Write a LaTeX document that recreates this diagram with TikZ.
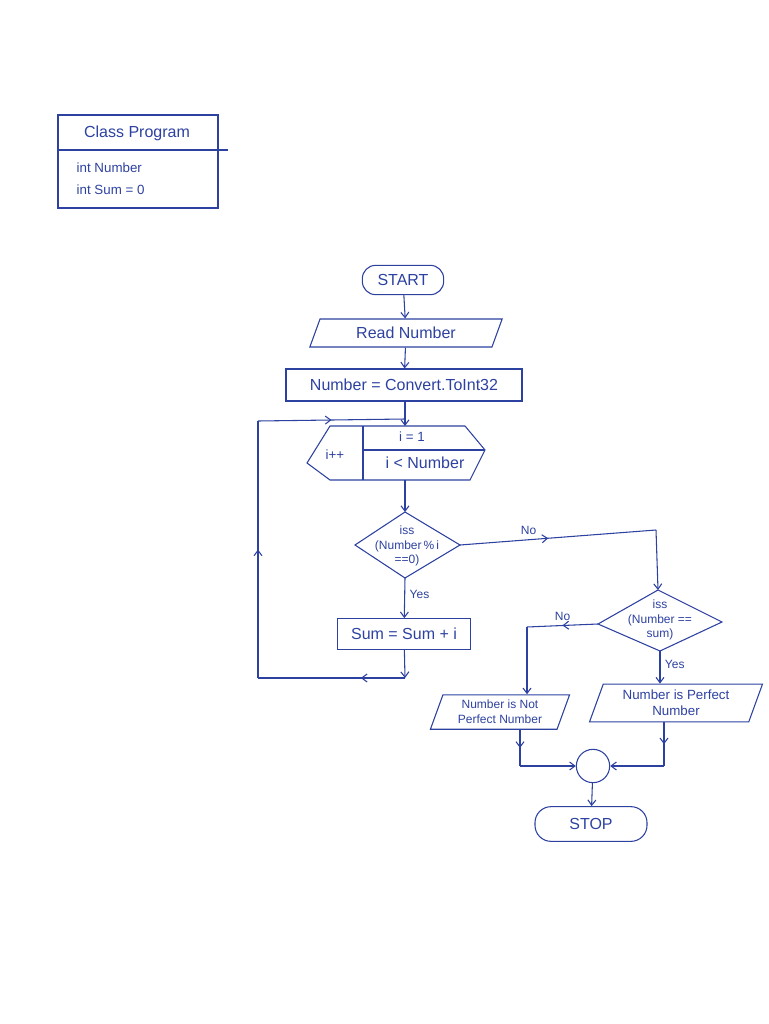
\documentclass[tikz,border=0pt]{standalone}
\usepackage{fontspec}
\setmainfont{Liberation Sans}
\usetikzlibrary{shapes.geometric,decorations.markings,arrows.meta}
\definecolor{ink}{RGB}{45,65,160}
\tikzset{
  every node/.style={text=ink},
  ln/.style={draw=ink, line width=0.8pt},
  arr/.style={ln,-{Straight Barb[length=4pt,width=6pt]}},
  mid/.style={ln,postaction={decorate},decoration={markings,mark=at position #1 with {\arrow{Straight Barb[length=4pt,width=6pt]}}}},
  box/.style={ln,rectangle,minimum height=24pt,inner sep=2pt,font=\large},
  para/.style={ln,trapezium,trapezium left angle=70,trapezium right angle=110,inner sep=2pt},
  dtext/.style={font=\small,align=center,inner sep=0pt},
  term/.style={ln,rounded corners=10pt,rectangle,font=\large},
  lab/.style={font=\small}
}
\begin{document}
\begin{tikzpicture}[x=0.75pt,y=-0.75pt]
\useasboundingbox (0,0) rectangle (768,1024);
% class box
\draw[ln] (58,115) rectangle (218,208);
\draw[ln] (58,150) -- (228,150);
\node[font=\large] (cn) at (137,133) {Class Program};
\node[anchor=west] (f1) at (72,168) {int Number};
\node[anchor=west] (f2) at (72,190) {int Sum = 0};
% nodes
\node[term,minimum width=61pt,minimum height=22pt] (start) at (403,280) {START};
\node[para,minimum width=100pt,minimum height=21pt,font=\large] (read) at (406,333) {Read Number};
\node[box,minimum width=177pt] (conv) at (404,385) {Number = Convert.ToInt32};
% hexagon
\coordinate (htop) at (405,426);
\coordinate (hbot) at (405,480);
\draw[ln] (330,426) -- (465,426) -- (485,450) -- (470,480) -- (330,480) -- (307,463) -- cycle;
\draw[ln] (363,426) -- (363,480);
\draw[ln] (363,450) -- (485,450);
\node (ipp) at (335,455) {i++};
\node (i1) at (412,437) {i = 1};
\node[font=\large] (icond) at (425,463) {i < Number};
% diamond 1
\coordinate (d1n) at (405,512);
\coordinate (d1s) at (405,578);
\coordinate (d1w) at (355,545);
\coordinate (d1e) at (460,545);
\draw[ln] (d1n) -- (d1e) -- (d1s) -- (d1w) -- cycle;
\node[dtext] (d1t) at (407,546) {iss\\(Number\,\%\,i\\==0)};
\node[box,minimum width=100pt,minimum height=23pt] (sum) at (404,634) {Sum = Sum + i};
% diamond 2
\coordinate (d2n) at (658,590);
\coordinate (d2s) at (660,651);
\coordinate (d2w) at (598,624);
\coordinate (d2e) at (722,622);
\draw[ln] (d2n) -- (d2e) -- (d2s) -- (d2w) -- cycle;
\node[dtext] (d2t) at (660,620) {iss\\(Number ==\\sum)};
\node[para,align=center,font=\small,minimum width=105pt,minimum height=23pt,inner sep=1pt] (np) at (500,712) {Number is Not\\Perfect Number};
\node[para,align=center,minimum width=130pt,minimum height=28pt,inner sep=1pt] (pp) at (676,703) {Number is Perfect\\Number};
\node[ln,circle,minimum size=25pt,inner sep=0pt] (join) at (593,766) {};
\node[term,minimum width=84pt,minimum height=26pt,rounded corners=12pt] (stop) at (591,824) {STOP};
% connectors
\draw[arr] (start) -- (read);
\draw[arr] (read) -- (conv);
\draw[arr] (conv.south -| htop) -- (htop);
\draw[arr] (hbot) -- (d1n);
\draw[arr] (d1s) -- node[lab,right,pos=0.4]{Yes} (sum);
\coordinate (lb) at (405,678);
\coordinate (ll) at (258,678);
\coordinate (lt) at (258,421);
\draw[arr] (sum) -- (lb);
\draw[mid=0.3] (lb) -- (ll);
\draw[mid=0.5] (ll) -- (lt);
\draw[mid=0.5] (lt) -- (405,419);
\coordinate (nr) at (656,530);
\draw[mid=0.45] (d1e) -- node[lab,above,pos=0.35]{No} (nr);
\draw[arr] (nr) -- (d2n);
\coordinate (nl) at (527,627);
\draw[mid=0.5] (d2w) -- node[lab,above,pos=0.5]{No} (nl);
\draw[arr] (nl) -- (np.north -| nl);
\draw[arr] (d2s) -- node[lab,right,pos=0.4]{Yes} (pp.north -| d2s);
\coordinate (jl) at (520,766);
\coordinate (jr) at (664,766);
\draw[mid=0.5] (np.south -| jl) -- (jl);
\draw[arr] (jl) -- (join.west);
\draw[mid=0.5] (pp.south -| jr) -- (jr);
\draw[arr] (jr) -- (join.east);
\draw[arr] (join) -- (stop);
\end{tikzpicture}
\end{document}
